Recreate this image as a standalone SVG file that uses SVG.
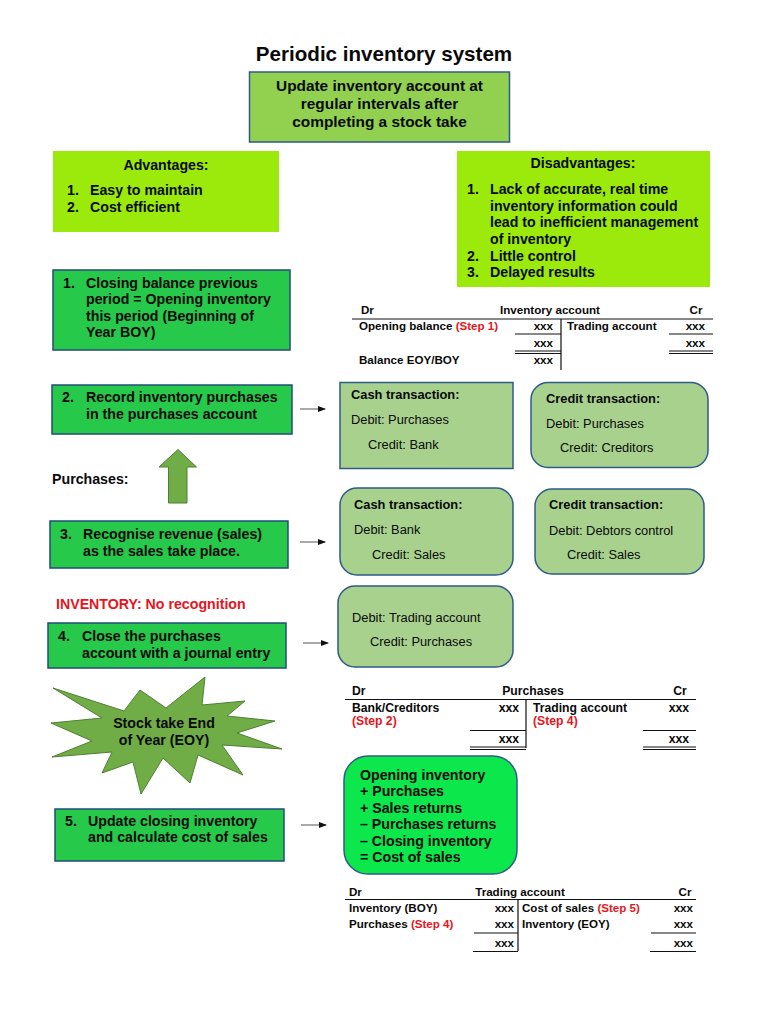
<svg xmlns="http://www.w3.org/2000/svg" width="768" height="1024" viewBox="0 0 768 1024">
<defs>
<marker id="ah" markerWidth="8" markerHeight="6" refX="7" refY="3" orient="auto" markerUnits="userSpaceOnUse"><path d="M0 0L8 3L0 6Z" fill="#111"/></marker>
</defs>
<style>
text{font-family:"Liberation Sans",Arial,sans-serif;fill:#0a0a0a}
.b{font-weight:700}
.s{font-size:14.2px;font-weight:700}
.u{font-size:15.4px;font-weight:700}
.l{font-size:11.6px;font-weight:700}
.p{font-size:12.2px;font-weight:700}
.j{font-size:12.85px}
.jh{font-size:12.85px;font-weight:700}
.r{fill:#e8141c}
.e{text-anchor:end}
.m{text-anchor:middle}
.step{fill:#26c94a;stroke:#1f4e79;stroke-width:1.5}
.adv{fill:#9bea0c}
.box{fill:#a9d18e;stroke:#2f5b8a;stroke-width:1.5}
.rule{stroke:#111;stroke-width:1.2;fill:none}
.conn{stroke:#555;stroke-width:1;fill:none;marker-end:url(#ah)}
</style>
<rect width="768" height="1024" fill="#fff"/>
<text id="title" x="384" y="61" class="b m" font-size="20.6">Periodic inventory system</text>

<g id="node-update">
<rect x="249.500" y="72" width="260" height="70" fill="#92d050" stroke="#2f5b8a" stroke-width="1.500"/>
<text x="379.500" y="91" class="u m">Update inventory account at</text>
<text x="379.500" y="109" class="u m">regular intervals after</text>
<text x="379.500" y="127" class="u m">completing a stock take</text>
</g>

<g id="node-advantages">
<rect x="53" y="151" width="226" height="81" class="adv"/>
<text x="166" y="170" class="s m">Advantages:</text>
<text x="67" y="195" class="s">1.</text><text x="90" y="195" class="s">Easy to maintain</text>
<text x="67" y="212" class="s">2.</text><text x="90" y="212" class="s">Cost efficient</text>
</g>

<g id="node-disadvantages">
<rect x="457" y="151" width="253" height="136" class="adv"/>
<text x="583" y="168" class="s m">Disadvantages:</text>
<text x="467" y="194" class="s">1.</text><text x="490" y="194" class="s">Lack of accurate, real time</text>
<text x="490" y="211" class="s">inventory information could</text>
<text x="490" y="227" class="s">lead to inefficient management</text>
<text x="490" y="244" class="s">of inventory</text>
<text x="467" y="261" class="s">2.</text><text x="490" y="261" class="s">Little control</text>
<text x="467" y="277" class="s">3.</text><text x="490" y="277" class="s">Delayed results</text>
</g>

<g id="node-step1">
<rect x="53" y="270" width="237" height="80" class="step"/>
<text x="63" y="288" class="s">1.</text><text x="86" y="288" class="s">Closing balance previous</text>
<text x="86" y="304" class="s">period = Opening inventory</text>
<text x="86" y="321" class="s">this period (Beginning of</text>
<text x="86" y="337" class="s">Year BOY)</text>
</g>

<g id="node-step2">
<rect x="52" y="385" width="240" height="49" class="step"/>
<text x="62" y="402" class="s">2.</text><text x="86" y="402" class="s">Record inventory purchases</text>
<text x="86" y="419" class="s">in the purchases account</text>
</g>

<g id="node-purchases-label"><text x="52" y="484" class="s">Purchases:</text></g>
<g id="node-up-arrow"><path d="M178 449.500L196.500 467H187V503H168.500V467H159Z" fill="#70ad47" stroke="#4f7f33" stroke-width="1"/></g>

<g id="node-step3">
<rect x="50" y="521" width="238" height="47" class="step"/>
<text x="60" y="539" class="s">3.</text><text x="83" y="539" class="s">Recognise revenue (sales)</text>
<text x="83" y="556" class="s">as the sales take place.</text>
</g>

<g id="node-inventory-label"><text x="56" y="609" class="s" style="fill:#e8141c">INVENTORY: No recognition</text></g>

<g id="node-step4">
<rect x="48" y="623" width="238" height="45" class="step"/>
<text x="58" y="641" class="s">4.</text><text x="82" y="641" class="s">Close the purchases</text>
<text x="82" y="658" class="s">account with a journal entry</text>
</g>

<g id="node-star">
<polygon points="53,688 124,711 140,690 166,708 205,677 202,705 245,701 227,716 275,721 237,733 282,749 222,745 243,775 198,755 190,783 163,758 141,794 133,762 102,773 112,752 52,757 92,741 51,723 102,718" fill="#70ad47" stroke="#4f7f33" stroke-width="1"/>
<text x="164" y="728" class="s m">Stock take End</text>
<text x="164" y="745" class="s m">of Year (EOY)</text>
</g>

<g id="node-step5">
<rect x="55" y="809" width="229" height="52" class="step"/>
<text x="65" y="826" class="s">5.</text><text x="88" y="826" class="s">Update closing inventory</text>
<text x="88" y="842" class="s">and calculate cost of sales</text>
</g>

<g id="connectors">
<line class="conn" x1="300" y1="409" x2="325" y2="409"/>
<line class="conn" x1="300" y1="542" x2="325" y2="542"/>
<line class="conn" x1="303" y1="643" x2="328" y2="643"/>
<line class="conn" x1="301" y1="825" x2="326" y2="825"/>
</g>

<g id="node-inventory-account">
<text x="361" y="314" class="l">Dr</text>
<text x="550" y="314" class="l m">Inventory account</text>
<text x="696" y="314" class="l m">Cr</text>
<path class="rule" d="M352 319H713M561 319V370M515 334H561M515 351H561M515 353.500H561M669 334H713M669 351H713M669 353.500H713"/>
<text x="359" y="330" class="l">Opening balance <tspan class="r">(Step 1)</tspan></text>
<text x="553" y="330" class="l e">xxx</text>
<text x="567" y="330" class="l">Trading account</text>
<text x="705" y="330" class="l e">xxx</text>
<text x="553" y="347" class="l e">xxx</text>
<text x="705" y="347" class="l e">xxx</text>
<text x="359" y="364" class="l">Balance EOY/BOY</text>
<text x="553" y="364" class="l e">xxx</text>
</g>

<g id="node-cash1">
<rect x="340" y="382.500" width="173" height="86" class="box"/>
<text x="351" y="399" class="jh">Cash transaction:</text>
<text x="351" y="424" class="j">Debit: Purchases</text>
<text x="368" y="449" class="j">Credit: Bank</text>
</g>
<g id="node-credit1">
<rect x="531" y="382.500" width="177" height="85" rx="17" class="box"/>
<text x="546" y="403" class="jh">Credit transaction:</text>
<text x="546" y="428" class="j">Debit: Purchases</text>
<text x="560" y="452" class="j">Credit: Creditors</text>
</g>
<g id="node-cash2">
<rect x="340" y="488" width="173" height="87" rx="17" class="box"/>
<text x="354" y="509" class="jh">Cash transaction:</text>
<text x="354" y="534" class="j">Debit: Bank</text>
<text x="372" y="559" class="j">Credit: Sales</text>
</g>
<g id="node-credit2">
<rect x="535" y="489" width="169" height="85" rx="17" class="box"/>
<text x="549" y="509" class="jh">Credit transaction:</text>
<text x="549" y="535" class="j">Debit: Debtors control</text>
<text x="567" y="559" class="j">Credit: Sales</text>
</g>
<g id="node-journal">
<rect x="338" y="586" width="175" height="81" rx="17" class="box"/>
<text x="352" y="622" class="j">Debit: Trading account</text>
<text x="370" y="646" class="j">Credit: Purchases</text>
</g>

<g id="node-purchases-account">
<text x="352" y="695" class="p">Dr</text>
<text x="533" y="695" class="p m">Purchases</text>
<text x="680" y="695" class="p m">Cr</text>
<path class="rule" d="M345 699.500H696M526 699.500V748M470 730.500H526M470 747H526M470 749.500H526M643 730.500H696M643 747H696M643 749.500H696"/>
<text x="352" y="712" class="p">Bank/Creditors</text>
<text x="352" y="725" class="p r">(Step 2)</text>
<text x="519" y="712" class="p e">xxx</text>
<text x="533" y="712" class="p">Trading account</text>
<text x="533" y="725" class="p r">(Step 4)</text>
<text x="689" y="712" class="p e">xxx</text>
<text x="519" y="743" class="p e">xxx</text>
<text x="689" y="743" class="p e">xxx</text>
</g>

<g id="node-cost-of-sales">
<rect x="344" y="756" width="173" height="118" rx="24" fill="#0ce84c" stroke="#2f5b8a" stroke-width="1.500"/>
<text x="360" y="780" class="s">Opening inventory</text>
<text x="360" y="796" class="s">+ Purchases</text>
<text x="360" y="813" class="s">+ Sales returns</text>
<text x="360" y="829" class="s">– Purchases returns</text>
<text x="360" y="846" class="s">– Closing inventory</text>
<text x="360" y="862" class="s">= Cost of sales</text>
</g>

<g id="node-trading-account">
<text x="349" y="896" class="l">Dr</text>
<text x="520" y="896" class="l m">Trading account</text>
<text x="685" y="896" class="l m">Cr</text>
<path class="rule" d="M345 899.500H696M518 899.500V951M474 933H518M473 951.500H518M651 933H696M650 951.500H696"/>
<text x="349" y="912" class="l">Inventory (BOY)</text>
<text x="514" y="912" class="l e">xxx</text>
<text x="522" y="912" class="l">Cost of sales <tspan class="r">(Step 5)</tspan></text>
<text x="693" y="912" class="l e">xxx</text>
<text x="349" y="928" class="l">Purchases <tspan class="r">(Step 4)</tspan></text>
<text x="514" y="928" class="l e">xxx</text>
<text x="522" y="928" class="l">Inventory (EOY)</text>
<text x="693" y="928" class="l e">xxx</text>
<text x="514" y="947" class="l e">xxx</text>
<text x="693" y="947" class="l e">xxx</text>
</g>
</svg>
